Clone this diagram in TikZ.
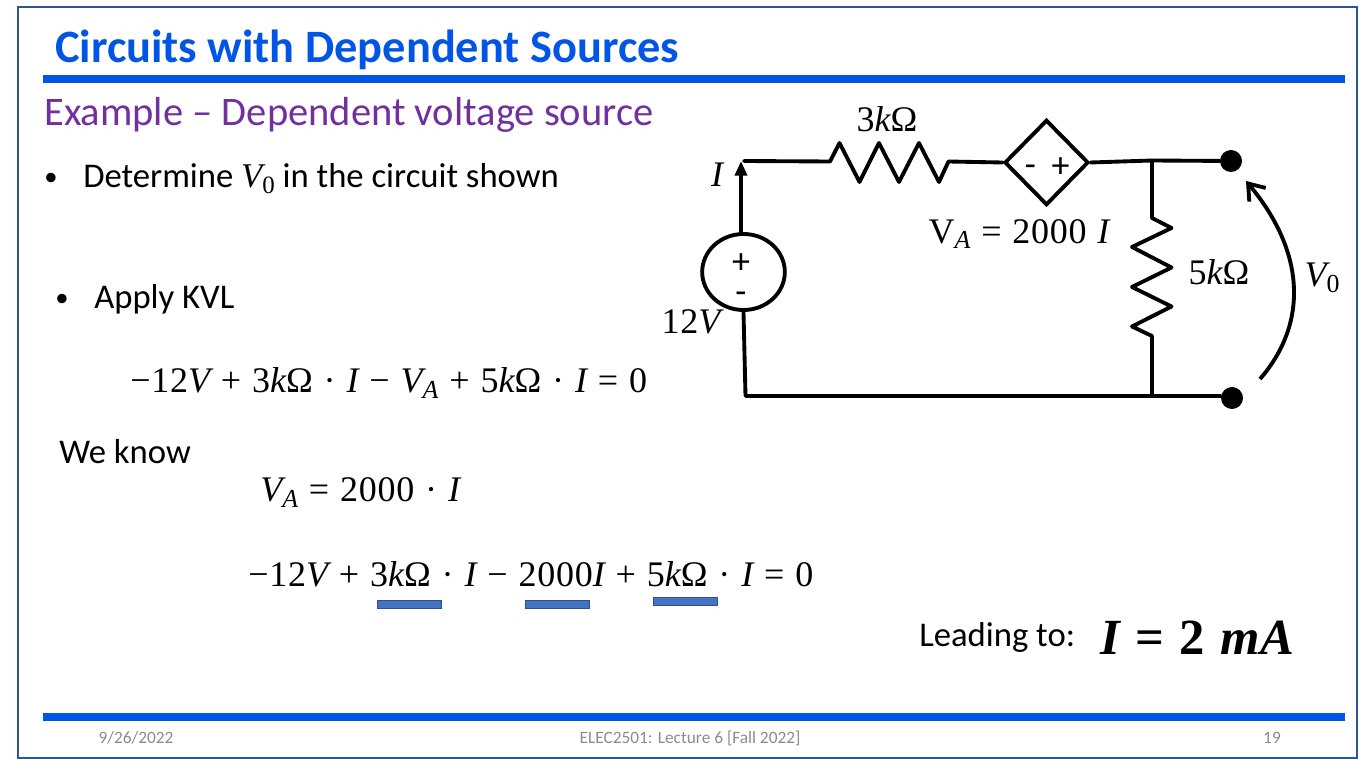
\documentclass[tikz,border=0pt]{standalone}
\usepackage{fontspec}
\usepackage{graphicx}
\usetikzlibrary{arrows.meta,shapes.geometric}
\setmainfont{Carlito}
\newfontfamily\eqfont[LetterSpace=2,WordSpace=1.12]{Liberation Serif}
\newcommand{\iv}[1]{{\eqfont\itshape #1}}
\newcommand{\ivsub}[1]{\raisebox{-.35ex}{\scalebox{.72}{#1}}}
\definecolor{framecol}{HTML}{2F5597}
\definecolor{barcol}{HTML}{0055E6}
\definecolor{purplecol}{HTML}{7030A0}
\definecolor{markcol}{HTML}{4472C4}
\definecolor{footcol}{HTML}{8B8B8B}
\tikzset{
    wire/.style={line width=2.9pt, line join=round, line cap=round},
    dot/.style={circle, fill, inner sep=0pt, minimum size=16.5pt},
    txt/.style={anchor=base west, inner sep=0pt, font=\fontsize{26}{26}\selectfont},
    bul/.style={anchor=base west, inner sep=0pt, font=\fontsize{20}{20}\selectfont},
    eqn/.style={anchor=base west, inner sep=0pt, font=\eqfont\fontsize{27}{27}\selectfont},
    cirlabel/.style={anchor=center, inner sep=0pt, font=\eqfont\fontsize{27}{27}\selectfont},
    sign/.style={anchor=center, inner sep=0pt, font=\fontsize{27}{27}\selectfont},
    foot/.style={anchor=base, inner sep=0pt, text=footcol, font=\fontsize{13}{13}\selectfont},
    bar/.style={fill=barcol, draw=none},
    underbar/.style={fill=markcol, draw=markcol!70!black, line width=.4pt},
}
\begin{document}
\begin{tikzpicture}[x=.75pt, y=-.75pt]
    \useasboundingbox (0,0) rectangle (1365,759);
    \draw[framecol, line width=.9pt] (18,7) rectangle (1357,758);
    \fill[bar] (43,75) rectangle (1345,83);
    \fill[bar] (43,713) rectangle (1345,721);
    % headings
    \node[anchor=base west, inner sep=0pt, text=barcol, font=\bfseries\fontsize{34.8}{35}\selectfont] (title) at (55,62.5) {Circuits with Dependent Sources};
    \node[anchor=base west, inner sep=0pt, text=purplecol, font=\fontsize{30.4}{31}\selectfont] (subtitle) at (44,125.5) {Example -- Dependent voltage source};
    % left text
    \node[bul] (b1) at (44,186) {•};
    \node[txt] (determine) at (83,188) {Determine \iv{V}\ivsub{\eqfont 0} in the circuit shown};
    \node[bul] (b2) at (55,307) {•};
    \node[txt] (apply) at (94,309) {Apply KVL};
    \node[eqn] (eq1) at (130,393) {−12\iv{V} + 3\iv{k}Ω · \iv{I} − \iv{V}\ivsub{\iv{A}} + 5\iv{k}Ω · \iv{I} = 0};
    \node[txt] (know) at (59,464) {We know};
    \node[eqn] (eq2) at (260,502) {\iv{V}\ivsub{\iv{A}} = 2000 · \iv{I}};
    \node[eqn] (eq3) at (248,586) {−12\iv{V} + 3\iv{k}Ω · \iv{I} − 2000\iv{I} + 5\iv{k}Ω · \iv{I} = 0};
    \path[underbar] (377,600) rectangle (441,608);
    \path[underbar] (525,600) rectangle (589,608);
    \path[underbar] (653,597) rectangle (717,605);
    \node[txt] (leading) at (919,646) {Leading to:};
    \node[anchor=base west, inner sep=0pt, font=\eqfont\bfseries\fontsize{38}{38}\selectfont] (result) at (1100,654) {\iv{I} = 2 \iv{mA}};
    % footer
    \node[foot] (date) at (136,743) {9/26/2022};
    \node[foot] (course) at (690,743) {ELEC2501: Lecture 6 [Fall 2022]};
    \node[foot] (page) at (1272,743) {19};
    % circuit
    \node[ellipse, draw, line width=2.9pt, inner sep=0pt, minimum width=62pt, minimum height=57pt] (vs) at (743.5,272) {};
    \node[diamond, draw, line width=2.9pt, inner sep=0pt, minimum width=63pt, minimum height=64pt] (va) at (1046.5,162.5) {};
    \node[dot] (t1) at (1231,161) {};
    \node[dot] (t2) at (1232,398) {};
    \coordinate (tl) at (744,161);
    \coordinate (bl) at (745.5,396);
    \coordinate (tj) at (1152,160.5);
    \coordinate (bj) at (1152,396);
    \coordinate (ia) at (741,233);
    \coordinate (ib) at (741,161);
    \draw[wire] (tl) -- (830,161.5) -- (839.5,143) -- (859.5,182) -- (879,143) -- (899,182) -- (919,143) -- (939,182) -- (948.5,161.5) -- (va.west);
    \draw[wire] (va.east) -- (tj) -- (t1);
    \draw[wire] (tj) -- (1152,218) -- (1171.5,228) -- (1132,247) -- (1171.5,267.5) -- (1132,287) -- (1171.5,306.5) -- (1132,326.5) -- (1152,336) -- (bj);
    \draw[wire] (vs.south) -- (bl) -- (bj) -- (t2.west |- bj);
    \draw[wire, line cap=butt, -{Triangle[length=11pt, width=9pt]}] (ia) -- (ib);
    \draw[wire, line cap=butt, -{Straight Barb[length=11pt, width=16pt, line width=2.9pt]}] (1260,379) .. controls (1307,325) and (1307,254) .. (1246,181);
    % circuit labels
    \node[cirlabel] (r1) at (887,119) {3\iv{k}Ω};
    \node[cirlabel] (cur) at (717,175) {\iv{I}};
    \node[cirlabel] (vsv) at (691,322) {12\iv{V}};
    \node[cirlabel] (vaeq) at (1019,234) {V\ivsub{\iv{A}} = 2000 \iv{I}};
    \node[cirlabel] (r2) at (1219,272) {5\iv{k}Ω};
    \node[cirlabel] (v0) at (1322,278) {\iv{V}\ivsub{0}};
    \node[sign] (vap) at (1060.5,168) {+};
    \node[sign] (vam) at (1030.5,171) {-};
    \node[sign] (vsp) at (741,264) {+};
    \node[sign] (vsm) at (741,298) {-};
\end{tikzpicture}
\end{document}
